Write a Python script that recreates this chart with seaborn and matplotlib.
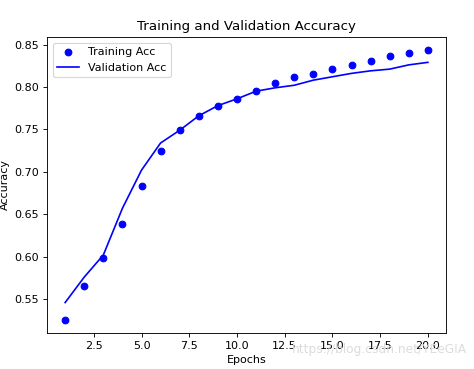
import matplotlib
matplotlib.use("Agg")
import matplotlib.pyplot as plt
import seaborn as sns

# Accuracy per epoch
epochs = list(range(1, 21))
train_acc = [0.526, 0.566, 0.598, 0.638, 0.683, 0.724, 0.749, 0.766, 0.778, 0.786,
             0.795, 0.805, 0.812, 0.815, 0.821, 0.826, 0.831, 0.836, 0.840, 0.843]
val_acc = [0.546, 0.576, 0.602, 0.657, 0.702, 0.734, 0.749, 0.766, 0.778, 0.786,
           0.795, 0.799, 0.802, 0.808, 0.812, 0.816, 0.819, 0.821, 0.826, 0.829]

fig, ax = plt.subplots(figsize=(474 / 80, 369 / 80), dpi=80)
fig.subplots_adjust(left=47 / 474, right=446 / 474, top=1 - 37 / 369, bottom=1 - 333 / 369)

sns.scatterplot(x=epochs, y=train_acc, ax=ax, color="b", edgecolor="b",
                linewidth=1, s=36, label="Training Acc", zorder=3)
sns.lineplot(x=epochs, y=val_acc, ax=ax, color="b", linewidth=1.5,
             label="Validation Acc")

ax.set_title("Training and Validation Accuracy")
ax.set_xlabel("Epochs")
ax.set_ylabel("Accuracy")
ax.legend(loc="upper left")

# watermark
fig.text(0.985, 0.035, "https://blog.csdn.net/YEeGIA", ha="right", va="bottom",
         color="#dcdcdc", fontsize=11)

fig.savefig("out.png", dpi=80)
